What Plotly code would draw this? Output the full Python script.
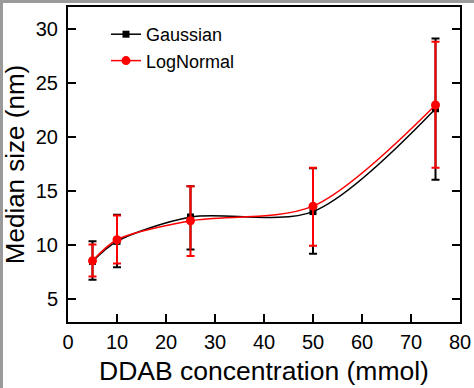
import plotly.graph_objects as go

# ---- data ----
conc = [5, 10, 25, 50, 75]

gauss_median = [8.5, 10.35, 12.6, 13.1, 22.6]
gauss_upper = [10.35, 12.8, 15.45, 17.1, 29.1]
gauss_lower = [6.8, 7.95, 9.6, 9.2, 16.05]

logn_median = [8.55, 10.5, 12.25, 13.6, 22.95]
logn_upper = [10.05, 12.75, 15.45, 17.15, 28.8]
logn_lower = [7.1, 8.3, 9.0, 9.95, 17.15]

x_ticks = [0, 10, 20, 30, 40, 50, 60, 70, 80]
y_ticks = [5, 10, 15, 20, 25, 30]

W, H = 474, 388
ML, MR, MT, MB = 68, 14, 7, 66
PW, PH = W - ML - MR, H - MT - MB

FONT = "Liberation Sans, Arial, sans-serif"


def plus(upper, med):
    return [u - m for u, m in zip(upper, med)]


def minus(lower, med):
    return [m - l for l, m in zip(lower, med)]


fig = go.Figure()
fig.add_trace(go.Scatter(
    x=conc, y=gauss_median, name="Gaussian", mode="lines+markers",
    line=dict(color="black", width=1.5, shape="spline", smoothing=0.85),
    marker=dict(symbol="square", size=7, color="black"),
    error_y=dict(type="data", symmetric=False,
                 array=plus(gauss_upper, gauss_median),
                 arrayminus=minus(gauss_lower, gauss_median),
                 color="black", thickness=2, width=4),
))
fig.add_trace(go.Scatter(
    x=conc, y=logn_median, name="LogNormal", mode="lines+markers",
    line=dict(color="#ff0000", width=1.5, shape="spline", smoothing=0.85),
    marker=dict(symbol="circle", size=9, color="#ff0000"),
    error_y=dict(type="data", symmetric=False,
                 array=plus(logn_upper, logn_median),
                 arrayminus=minus(logn_lower, logn_median),
                 color="#ff0000", thickness=2, width=4),
))

axis_common = dict(
    showline=True, linecolor="black", linewidth=2,
    ticks="inside", ticklen=8, tickwidth=2, tickcolor="black",
    showgrid=False, zeroline=False,
    tickfont=dict(family=FONT, size=20, color="black"),
)

fig.update_xaxes(
    range=[0, 80], tickvals=x_ticks, mirror=True,
    title=dict(text="DDAB concentration (mmol)", standoff=9,
               font=dict(family=FONT, size=26.5, color="black")),
    ticklabelstandoff=1,
    **axis_common,
)
fig.update_yaxes(
    range=[2.9, 32], tickvals=y_ticks, mirror="ticks",
    title=dict(text="Median size (nm)", standoff=6,
               font=dict(family=FONT, size=26, color="black")),
    ticklabelstandoff=4,
    **axis_common,
)

# grey frame strips at top and left edge of the picture
fig.add_shape(type="rect", xref="paper", yref="paper",
              x0=-ML / PW, x1=(-ML + 3) / PW, y0=-MB / PH, y1=(PH + MT) / PH,
              fillcolor="#9a9a9a", line=dict(width=0), layer="above")
fig.add_shape(type="rect", xref="paper", yref="paper",
              x0=-ML / PW, x1=(PW + MR) / PW, y0=(PH + MT - 3) / PH, y1=(PH + MT) / PH,
              fillcolor="#9a9a9a", line=dict(width=0), layer="above")

fig.update_layout(
    width=W, height=H,
    margin=dict(l=ML, r=MR, t=MT, b=MB, autoexpand=False),
    paper_bgcolor="white", plot_bgcolor="white",
    showlegend=True,
    legend=dict(x=(106 - ML) / PW, y=(PH - 9) / PH, xanchor="left", yanchor="top",
                bgcolor="rgba(0,0,0,0)", font=dict(family=FONT, size=18, color="black"),
                tracegroupgap=0, itemsizing="trace"),
    font=dict(family=FONT, color="black"),
)

fig.write_html(
    "out.html",
    config={"displayModeBar": False},
    post_script="document.body.style.margin='0';document.body.style.padding='0';"
                "document.documentElement.style.overflow='hidden';",
)
